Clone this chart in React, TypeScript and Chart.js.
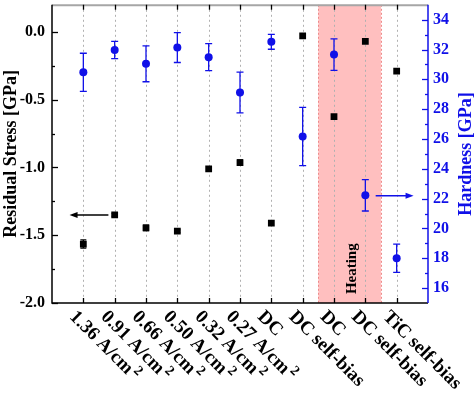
import React, { useEffect, useRef } from 'react';
import { Chart, registerables } from 'chart.js';

Chart.register(...registerables);

// ---- data ----
const categoryLabels = [
  '1.36 A/cm²', '0.91 A/cm²', '0.66 A/cm²', '0.50 A/cm²', '0.32 A/cm²', '0.27 A/cm²',
  'DC', 'DC self-bias', 'DC', 'DC self-bias', 'TiC self-bias',
];
const categoryPos = [1, 2, 3, 4, 5, 6, 7, 8, 9, 10, 11];
const residualStress = [-1.565, -1.35, -1.445, -1.47, -1.01, -0.965, -1.41, -0.03, -0.625, -0.07, -0.29];
const residualStressErr = [0.03, 0.01, 0.02, 0.01, 0, 0.02, 0, 0, 0, 0, 0];
const hardness = [30.47, 31.97, 31.04, 32.13, 31.49, 29.12, 32.52, 26.17, 31.66, 22.22, 18.0];
const hardnessErr = [1.28, 0.58, 1.2, 1.0, 0.9, 1.37, 0.5, 1.95, 1.06, 1.05, 0.95];
const stressTicks = [-2.0, -1.5, -1.0, -0.5, 0.0];
const stressMinorTicks = [-1.75, -1.25, -0.75, -0.25];
const hardnessTicks = [16, 18, 20, 22, 24, 26, 28, 30, 32, 34];
const hardnessMinorTicks = [17, 19, 21, 23, 25, 27, 29, 31, 33];
const heatingRange = [8.5, 10.5];
const heatingLabel = 'Heating';
const heatingLabelAt = [9.6, 17.3];
const stressArrow = [1.8, 0.56, -1.35];
const hardnessArrow = [10.33, 11.54, 22.2];
const leftTitle = 'Residual Stress [GPa]';
const rightTitle = 'Hardness [GPa]';

const SERIF = '"Liberation Serif", "Times New Roman", serif';
const BLUE = '#1010e8';

function arrow(ctx: CanvasRenderingContext2D, x0: number, x1: number, y: number, color: string) {
  const dir = Math.sign(x1 - x0);
  ctx.strokeStyle = color;
  ctx.fillStyle = color;
  ctx.lineWidth = 1.5;
  ctx.beginPath();
  ctx.moveTo(x0, y);
  ctx.lineTo(x1 - dir * 6, y);
  ctx.stroke();
  ctx.beginPath();
  ctx.moveTo(x1, y);
  ctx.lineTo(x1 - dir * 8, y - 3);
  ctx.lineTo(x1 - dir * 8, y + 3);
  ctx.closePath();
  ctx.fill();
}

const decor = {
  id: 'decor',
  beforeDatasetsDraw(chart: any) {
    const { ctx, chartArea: a, scales } = chart;
    const x = scales.x, yl = scales.y, yr = scales.y2;
    ctx.save();
    // heating band
    const bx0 = x.getPixelForValue(heatingRange[0]);
    const bx1 = x.getPixelForValue(heatingRange[1]);
    ctx.fillStyle = '#ffbfbf';
    ctx.fillRect(bx0, a.top, bx1 - bx0, a.bottom - a.top);
    ctx.strokeStyle = '#ee8a8a';
    ctx.lineWidth = 1;
    ctx.setLineDash([2, 2]);
    [bx0, bx1].forEach((bx) => {
      ctx.beginPath();
      ctx.moveTo(Math.round(bx) + 0.5, a.top);
      ctx.lineTo(Math.round(bx) + 0.5, a.bottom);
      ctx.stroke();
    });
    // dotted category grid
    ctx.strokeStyle = '#b0b0b0';
    ctx.setLineDash([2, 3]);
    categoryPos.forEach((v) => {
      const px = Math.round(x.getPixelForValue(v)) + 0.5;
      ctx.beginPath();
      ctx.moveTo(px, a.top);
      ctx.lineTo(px, a.bottom);
      ctx.stroke();
    });
    ctx.setLineDash([]);
    // heating label
    ctx.save();
    ctx.translate(x.getPixelForValue(heatingLabelAt[0]) + 3, yr.getPixelForValue(heatingLabelAt[1]));
    ctx.rotate(-Math.PI / 2);
    ctx.font = `bold 15px ${SERIF}`;
    ctx.fillStyle = '#000';
    ctx.textAlign = 'center';
    ctx.textBaseline = 'alphabetic';
    ctx.fillText(heatingLabel, 0, 0);
    ctx.restore();
    // error bars
    const bars = (vals: number[], errs: number[], sc: any, color: string, cap: number) => {
      ctx.strokeStyle = color;
      ctx.lineWidth = 1.3;
      vals.forEach((v, i) => {
        const e = errs[i];
        if (!e) return;
        const px = x.getPixelForValue(categoryPos[i]);
        const t = sc.getPixelForValue(v + e);
        const b = sc.getPixelForValue(v - e);
        ctx.beginPath();
        ctx.moveTo(px, t); ctx.lineTo(px, b);
        ctx.moveTo(px - cap, t); ctx.lineTo(px + cap, t);
        ctx.moveTo(px - cap, b); ctx.lineTo(px + cap, b);
        ctx.stroke();
      });
    };
    bars(hardness, hardnessErr, yr, BLUE, 3.5);
    bars(residualStress, residualStressErr, yl, '#000', 3);
    ctx.restore();
  },
  afterDatasetsDraw(chart: any) {
    const { ctx, chartArea: a, scales } = chart;
    const x = scales.x, yl = scales.y, yr = scales.y2;
    ctx.save();
    // frame
    ctx.lineWidth = 2;
    ctx.strokeStyle = '#a6a6a6';
    ctx.beginPath(); ctx.moveTo(a.left, a.top + 0.5); ctx.lineTo(a.right, a.top + 0.5); ctx.stroke();
    ctx.lineWidth = 1.5;
    ctx.strokeStyle = '#000';
    ctx.beginPath();
    ctx.moveTo(a.left, a.top); ctx.lineTo(a.left, a.bottom);
    ctx.lineTo(a.right, a.bottom);
    ctx.stroke();
    ctx.strokeStyle = BLUE;
    ctx.beginPath(); ctx.moveTo(a.right, a.top); ctx.lineTo(a.right, a.bottom); ctx.stroke();
    // x ticks (top and bottom, inward)
    ctx.strokeStyle = '#000';
    ctx.lineWidth = 1.3;
    categoryPos.forEach((v) => {
      const px = Math.round(x.getPixelForValue(v)) + 0.5;
      ctx.beginPath();
      ctx.moveTo(px, a.bottom); ctx.lineTo(px, a.bottom - 5);
      ctx.moveTo(px, a.top); ctx.lineTo(px, a.top + 5);
      ctx.stroke();
    });
    // y ticks (inward)
    const yTicks = (sc: any, vals: number[], len: number, side: number, color: string) => {
      ctx.strokeStyle = color;
      vals.forEach((v) => {
        const py = Math.round(sc.getPixelForValue(v)) + 0.5;
        const x0 = side < 0 ? a.left : a.right;
        ctx.beginPath();
        ctx.moveTo(x0, py);
        ctx.lineTo(x0 - side * len, py);
        ctx.stroke();
      });
    };
    yTicks(yl, stressTicks, 6, -1, '#000');
    yTicks(yl, stressMinorTicks, 3, -1, '#000');
    yTicks(yr, hardnessTicks, 6, 1, BLUE);
    yTicks(yr, hardnessMinorTicks, 3, 1, BLUE);
    // y tick labels
    ctx.font = `bold 16px ${SERIF}`;
    ctx.textBaseline = 'middle';
    ctx.fillStyle = '#000';
    ctx.textAlign = 'right';
    stressTicks.forEach((v) => ctx.fillText(v.toFixed(1), a.left - 7, yl.getPixelForValue(v)));
    ctx.fillStyle = BLUE;
    ctx.textAlign = 'left';
    hardnessTicks.forEach((v) => ctx.fillText(String(v), a.right + 5, yr.getPixelForValue(v)));
    // axis titles
    ctx.font = `bold 18px ${SERIF}`;
    ctx.textAlign = 'center';
    ctx.textBaseline = 'alphabetic';
    const midY = (a.top + a.bottom) / 2;
    ctx.save();
    ctx.translate(16, midY);
    ctx.rotate(-Math.PI / 2);
    ctx.fillStyle = '#000';
    ctx.fillText(leftTitle, 0, 0);
    ctx.restore();
    ctx.save();
    ctx.translate(471, midY);
    ctx.rotate(-Math.PI / 2);
    ctx.fillStyle = BLUE;
    ctx.fillText(rightTitle, 0, 0);
    ctx.restore();
    // x category labels, rotated 45deg clockwise
    categoryLabels.forEach((lab, i) => {
      const px = x.getPixelForValue(categoryPos[i]);
      ctx.save();
      ctx.translate(px - 11, a.bottom + 11);
      ctx.rotate(Math.PI / 4);
      ctx.fillStyle = '#000';
      ctx.textAlign = 'left';
      ctx.textBaseline = 'middle';
      ctx.font = `bold 19px ${SERIF}`;
      const sup = lab.endsWith('²');
      const base = sup ? lab.slice(0, -1) : lab;
      ctx.fillText(base, 0, 0);
      if (sup) {
        const w = ctx.measureText(base).width;
        ctx.font = `bold 14px ${SERIF}`;
        ctx.fillText('2', w + 2, -6);
      }
      ctx.restore();
    });
    // arrows
    arrow(ctx, x.getPixelForValue(stressArrow[0]), x.getPixelForValue(stressArrow[1]), yl.getPixelForValue(stressArrow[2]), '#000');
    arrow(ctx, x.getPixelForValue(hardnessArrow[0]), x.getPixelForValue(hardnessArrow[1]), yr.getPixelForValue(hardnessArrow[2]), BLUE);
    ctx.restore();
  },
};

export default function App() {
  const ref = useRef<HTMLCanvasElement>(null);
  useEffect(() => {
    if (!ref.current) return;
    const chart = new Chart(ref.current, {
      type: 'scatter',
      data: {
        datasets: [
          {
            label: 'Residual Stress',
            data: categoryPos.map((c, i) => ({ x: c, y: residualStress[i] })),
            yAxisID: 'y',
            pointStyle: 'rect',
            pointRadius: 4.8,
            backgroundColor: '#000',
            borderColor: '#000',
            borderWidth: 0,
          },
          {
            label: 'Hardness',
            data: categoryPos.map((c, i) => ({ x: c, y: hardness[i] })),
            yAxisID: 'y2',
            pointStyle: 'circle',
            pointRadius: 4,
            backgroundColor: BLUE,
            borderColor: BLUE,
            borderWidth: 0,
          },
        ],
      },
      options: {
        responsive: false,
        animation: false,
        layout: { padding: { left: 52, right: 46, top: 1, bottom: 92 } },
        plugins: { legend: { display: false }, tooltip: { enabled: false } },
        scales: {
          x: { type: 'linear', min: 0, max: 12, display: false },
          y: { type: 'linear', min: -2, max: 0.2, display: false, position: 'left' },
          y2: { type: 'linear', min: 15, max: 35, display: false, position: 'right' },
        },
      },
      plugins: [decor],
    });
    return () => chart.destroy();
  }, []);
  return (
    <div style={{ position: 'fixed', left: 0, top: 0, width: 474, height: 395, background: '#fff' }}>
      <canvas ref={ref} width={474} height={395} style={{ width: 474, height: 395, display: 'block' }} />
    </div>
  );
}
